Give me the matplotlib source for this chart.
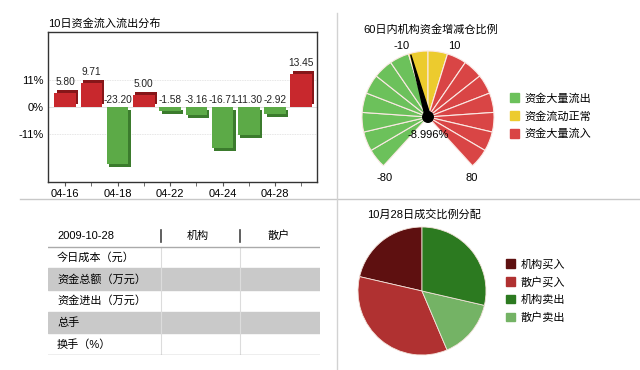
import matplotlib
matplotlib.use('Agg')
import matplotlib.pyplot as plt
from matplotlib.patches import Wedge, Polygon, Circle, Patch
from matplotlib.lines import Line2D
import numpy as np

plt.rcParams['font.family'] = ['Liberation Sans', 'Noto Sans CJK SC', 'DejaVu Sans']
plt.rcParams['axes.unicode_minus'] = False

W, H = 640, 370

# ---- data ----
flow_title = '10日资金流入流出分布'
flow_dates = ['04-16', '04-17', '04-18', '04-21', '04-22', '04-23', '04-24', '04-27', '04-28', '04-29']
flow_values = [5.80, 9.71, -23.20, 5.00, -1.58, -3.16, -16.71, -11.30, -2.92, 13.45]
flow_yticks = [-11, 0, 11]

gauge_title = '60日内机构资金增减仓比例'
gauge_value = -8.996
gauge_min, gauge_max, gauge_step = -80, 80, 10
gauge_bands = [(-80, -10), (-10, 10), (10, 80)]
gauge_band_names = ['资金大量流出', '资金流动正常', '资金大量流入']
gauge_tick_values = [-80, -10, 10, 80]

table_date = '2009-10-28'
table_columns = ['机构', '散户']
table_rows = ['今日成本（元）', '资金总额（万元）', '资金进出（万元）', '总手', '换手（%）']

pie_title = '10月28日成交比例分配'
pie_labels = ['机构买入', '散户买入', '机构卖出', '散户卖出']
pie_values = [21.4, 35.0, 28.6, 15.0]
pie_draw_order = [0, 1, 3, 2]

# ---- colours ----
red_face, red_dark = '#c8282d', '#861619'
green_face, green_dark = '#5caa47', '#3b7b2d'
band_colors = ['#6cc15b', '#eccb2e', '#d94545']
pie_colors = ['#5e1010', '#b03131', '#2c7a20', '#74b365']


def fx(x):
    return x / W


def fy(y):
    return 1 - y / H


def box(x0, y0, x1, y1):
    return [fx(x0), fy(y1), (x1 - x0) / W, (y1 - y0) / H]


fig = plt.figure(figsize=(6.4, 3.7), dpi=100)
fig.patch.set_facecolor('white')

# dividers
fig.add_artist(Line2D([fx(20), 1], [fy(199), fy(199)], color='#c8c8c8', lw=1))
fig.add_artist(Line2D([fx(336.5), fx(336.5)], [fy(13), 0], color='#d2d2d2', lw=1))

# ---- bar chart ----
ax = fig.add_axes(box(48, 32, 317, 182))
x = np.arange(len(flow_values))
vals = np.array(flow_values)
sign = np.where(vals >= 0, 1, -1)
face = [red_face if v >= 0 else green_face for v in vals]
dark = [red_dark if v >= 0 else green_dark for v in vals]
ax.bar(x + 0.09, vals, width=0.82, bottom=sign * 1.2, color=dark, zorder=2)
ax.bar(x, vals, width=0.82, color=face, zorder=3)
for xi, v in zip(x, vals):
    ax.text(xi, max(v, 0) + (2.4 if v > 0 else 0.8), '%.2f' % v, ha='center', va='bottom',
            fontsize=7.3, color='#222222', zorder=4)
ax.set_xlim(-0.65, 9.6)
ax.set_ylim(-30.6, 30.6)
ax.set_yticks(flow_yticks)
ax.set_yticklabels(['%d%%' % t for t in flow_yticks], fontsize=8)
ax.set_xticks(x[::2])
ax.set_xticklabels(flow_dates[::2], fontsize=8)
ax.set_xticks(x[1::2], minor=True)
ax.tick_params(axis='y', length=0, pad=3)
ax.tick_params(axis='x', which='both', length=3, color='#555555', pad=2)
for t in flow_yticks:
    ax.axhline(t, color='#dddddd', lw=0.6, ls=(0, (1, 1)) if t else '-', zorder=1)
for s in ax.spines.values():
    s.set_color('#333333')
    s.set_linewidth(1)
fig.text(fx(48), fy(24), flow_title, fontsize=8, va='center', ha='left')

# ---- gauge ----
deg_per_unit = 1.72
gx, gy, gr = 428, 117, 66
ag = fig.add_axes(box(gx - 80, gy - 80, gx + 80, gy + 80))
ag.set_xlim(-80 / gr, 80 / gr)
ag.set_ylim(-80 / gr, 80 / gr)
ag.axis('off')


def ang(v):
    return 90 - v * deg_per_unit


for v0 in range(gauge_min, gauge_max, gauge_step):
    v1 = v0 + gauge_step
    ci = [i for i, (a, b) in enumerate(gauge_bands) if a <= v0 < b][0]
    ag.add_patch(Wedge((0, 0), 1, ang(v1), ang(v0), facecolor=band_colors[ci],
                       edgecolor='#fbe9e4', lw=0.8))
t = np.radians(ang(gauge_value))
perp = t + np.pi / 2
tip = (0.98 * np.cos(t), 0.98 * np.sin(t))
base1 = (0.04 * np.cos(perp), 0.04 * np.sin(perp))
base2 = (-0.04 * np.cos(perp), -0.04 * np.sin(perp))
ag.add_patch(Polygon([tip, base1, base2], closed=True, color='black', zorder=5))
ag.add_patch(Circle((0, 0), 0.08, color='black', zorder=6))
ag.text(0, -0.27, '%.3f%%' % gauge_value, ha='center', va='center', fontsize=8, zorder=7)
for tv in gauge_tick_values:
    a = np.radians(ang(tv) - np.sign(tv) * (3 if abs(tv) < 50 else 7))
    ag.text(1.14 * np.cos(a), 1.14 * np.sin(a), str(tv), ha='center', va='center', fontsize=8)
fig.text(fx(363), fy(30), gauge_title, fontsize=8, va='center', ha='left')
fig.legend([Patch(color=c) for c in band_colors], gauge_band_names, loc='upper left',
           bbox_to_anchor=(fx(510), fy(93)), frameon=False, fontsize=8,
           handlelength=0.8, handleheight=0.8, handletextpad=0.5, labelspacing=0.65,
           borderpad=0, borderaxespad=0)

# ---- table ----
at = fig.add_axes(box(48, 225, 320, 355))
nrow = len(table_rows) + 1
at.set_xlim(0, 1)
at.set_ylim(nrow, 0)
at.axis('off')
col_sep = [0.415, 0.706]
col_mid = [0.552, 0.848]
for i, name in enumerate(table_rows):
    r = i + 1
    if i % 2 == 1:
        at.axhspan(r, r + 1, color='#c9c9c9', zorder=0)
    at.text(0.033, r + 0.5, name, va='center', ha='left', fontsize=8)
at.text(0.033, 0.5, table_date, va='center', ha='left', fontsize=8)
for c, m in zip(table_columns, col_mid):
    at.text(m, 0.5, c, va='center', ha='center', fontsize=8)
for s in col_sep:
    at.plot([s, s], [0.25, 0.8], color='#444444', lw=1.2)
    at.plot([s, s], [1, nrow], color='#dcdcdc', lw=0.8, zorder=1)
at.plot([0, 1], [1, 1], color='#aaaaaa', lw=1)
at.plot([0, 1], [nrow, nrow], color='#aaaaaa', lw=1)

# ---- pie ----
px, py, pr = 422, 291, 64
ap = fig.add_axes(box(px - pr * 1.25, py - pr * 1.25, px + pr * 1.25, py + pr * 1.25))
wedges, _ = ap.pie([pie_values[i] for i in pie_draw_order],
                   colors=[pie_colors[i] for i in pie_draw_order],
                   startangle=90, counterclock=True,
                   wedgeprops=dict(edgecolor='#f3e2da', linewidth=0.6))
fig.text(fx(424), fy(214), pie_title, fontsize=8, va='center', ha='center')
fig.legend([Patch(color=c) for c in pie_colors], pie_labels, loc='upper left',
           bbox_to_anchor=(fx(506), fy(259)), frameon=False, fontsize=8,
           handlelength=0.8, handleheight=0.8, handletextpad=0.5, labelspacing=0.65,
           borderpad=0, borderaxespad=0)

fig.savefig('out.png', dpi=100)
